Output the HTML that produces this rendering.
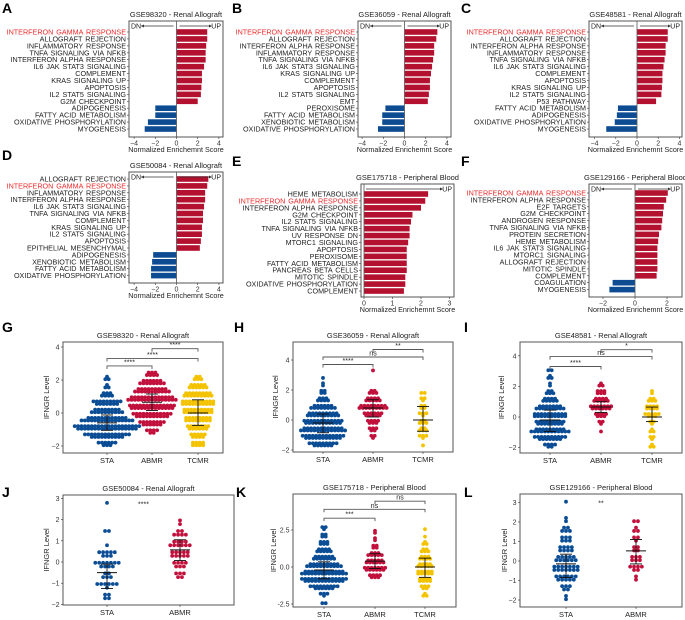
<!DOCTYPE html>
<html><head><meta charset="utf-8"><style>
html,body{margin:0;padding:0;background:#fff}
svg{display:block;font-family:"Liberation Sans",Arial,sans-serif}
</style></head><body>
<svg id="fig" width="685" height="620" viewBox="0 0 685 620" xmlns="http://www.w3.org/2000/svg"></svg>
<script>
// ---------- Enrichment bar data ----------
const A_terms=["INTERFERON GAMMA RESPONSE","ALLOGRAFT REJECTION","INFLAMMATORY RESPONSE","TNFA SIGNALING VIA NFKB","INTERFERON ALPHA RESPONSE","IL6 JAK STAT3 SIGNALING","COMPLEMENT","KRAS SIGNALING UP","APOPTOSIS","IL2 STAT5 SIGNALING","G2M CHECKPOINT","ADIPOGENESIS","FATTY ACID METABOLISM","OXIDATIVE PHOSPHORYLATION","MYOGENESIS"];
const A_nes=[2.9,2.9,2.8,2.75,2.75,2.6,2.4,2.4,2.35,2.3,2.0,-2.0,-2.0,-2.7,-3.0];
const B_terms=["INTERFERON GAMMA RESPONSE","ALLOGRAFT REJECTION","INTERFERON ALPHA RESPONSE","INFLAMMATORY RESPONSE","TNFA SIGNALING VIA NFKB","IL6 JAK STAT3 SIGNALING","KRAS SIGNALING UP","COMPLEMENT","APOPTOSIS","IL2 STAT5 SIGNALING","EMT","PEROXISOME","FATTY ACID METABOLISM","XENOBIOTIC METABOLISM","OXIDATIVE PHOSPHORYLATION"];
const B_nes=[3.1,3.0,2.8,2.8,2.7,2.6,2.5,2.4,2.4,2.3,2.2,-1.8,-2.1,-2.1,-2.5];
const C_terms=["INTERFERON GAMMA RESPONSE","ALLOGRAFT REJECTION","INTERFERON ALPHA RESPONSE","INFLAMMATORY RESPONSE","TNFA SIGNALING VIA NFKB","IL6 JAK STAT3 SIGNALING","COMPLEMENT","APOPTOSIS","KRAS SIGNALING UP","IL2 STAT5 SIGNALING","P53 PATHWAY","FATTY ACID METABOLISM","ADIPOGENESIS","OXIDATIVE PHOSPHORYLATION","MYOGENESIS"];
const C_nes=[2.9,2.9,2.7,2.7,2.6,2.5,2.4,2.4,2.35,2.3,1.8,-1.8,-1.9,-2.1,-2.9];
const D_terms=["ALLOGRAFT REJECTION","INTERFERON GAMMA RESPONSE","INFLAMMATORY RESPONSE","INTERFERON ALPHA RESPONSE","IL6 JAK STAT3 SIGNALING","TNFA SIGNALING VIA NFKB","COMPLEMENT","KRAS SIGNALING UP","IL2 STAT5 SIGNALING","APOPTOSIS","EPITHELIAL MESENCHYMAL","ADIPOGENESIS","XENOBIOTIC METABOLISM","FATTY ACID METABOLISM","OXIDATIVE PHOSPHORYLATION"];
const D_nes=[3.0,2.9,2.7,2.7,2.6,2.5,2.5,2.4,2.4,2.3,2.2,-2.2,-2.3,-2.4,-2.4];
const E_terms=["HEME METABOLISM","INTERFERON GAMMA RESPONSE","INTERFERON ALPHA RESPONSE","G2M CHECKPOINT","IL2 STAT5 SIGNALING","TNFA SIGNALING VIA NFKB","UV RESPONSE DN","MTORC1 SIGNALING","APOPTOSIS","PEROXISOME","FATTY ACID METABOLISM","PANCREAS BETA CELLS","MITOTIC SPINDLE","OXIDATIVE PHOSPHORYLATION","COMPLEMENT"];
const E_nes=[2.25,2.15,2.0,1.7,1.65,1.6,1.6,1.55,1.5,1.5,1.5,1.5,1.45,1.45,1.4];
const F_terms=["INTERFERON GAMMA RESPONSE","INTERFERON ALPHA RESPONSE","E2F TARGETS","G2M CHECKPOINT","ANDROGEN RESPONSE","TNFA SIGNALING VIA NFKB","PROTEIN SECRETION","HEME METABOLISM","IL6 JAK STAT3 SIGNALING","MTORC1 SIGNALING","ALLOGRAFT REJECTION","MITOTIC SPINDLE","COMPLEMENT","COAGULATION","MYOGENESIS"];
const F_nes=[2.05,1.95,1.8,1.75,1.7,1.65,1.5,1.45,1.4,1.4,1.4,1.4,1.35,-1.4,-1.6];
const tickSym=[-4,-2,0,2,4];
const tickE=[0,1,2,3];
const tickF=[-2,0,2];

// ---------- IFNGR swarm data (counts per 0.25 bin, starting value) ----------
const binStep=0.25;
const G_STA_start=-2, G_STA=[3,6,10,14,18,20,16,12,10,8,7,9,4,3,2,1,2,1];
const G_ABMR_start=-1.25, G_ABMR=[2,4,6,8,10,12,13,14,15,13,11,9,8,6,4,3];
const G_TCMR_start=-2, G_TCMR=[4,4,4,5,6,7,8,8,9,9,10,10,9,8,6,5,3,2];
const G_mean=[-0.6,0.65,0], G_lo=[-1.05,0.15,-0.75], G_hi=[-0.12,1.15,0.8];
const H_STA_start=-1.75, H_STA=[6,9,11,13,14,12,11,12,10,9,8,6,4,3,2,2,1,1,1];
const H_ABMR_start=-1.25, H_ABMR=[1,2,2,3,3,4,5,6,9,8,5,4,3,2,0,0,0,0,1];
const H_TCMR_start=-1.75, H_TCMR=[1,0,1,3,3,2,3,2,1,3,2,2,1,2,2];
const H_mean=[-0.2,0.8,0], H_lo=[-0.85,0.2,-0.75], H_hi=[0.4,1.35,0.9];
const I_STA_start=-2, I_STA=[2,4,7,10,12,9,8,9,10,10,9,7,5,4,3,2,1,1,2,1,2];
const I_ABMR_start=-1, I_ABMR=[1,0,1,2,3,4,6,7,5,4,3,3,2,1];
const I_TCMR_start=-2, I_TCMR=[2,1,1,2,2,1,1,2,3,5,4,4,3,2,1,1];
const I_mean=[-0.2,0.65,0], I_lo=[-0.95,0.3,-0.3], I_hi=[0.45,1.0,0.65];
const J_STA_start=-1.75, J_STA=[2,2,1,6,3,2,4,7,3,5,1,0,0,2,0,0,0,0,1];
const J_ABMR_start=-0.75, J_ABMR=[2,3,3,4,5,5,6,4,4,2,1,1];
const J_mean=[-0.5,0.57], J_lo=[-1.25,0.07], J_hi=[-0.1,1.05];
const K_STA_start=-2.5, K_STA=[2,0,1,3,6,9,12,14,14,12,11,9,7,6,5,4,3,3,2,2,1,2];
const K_ABMR_start=-0.75, K_ABMR=[3,4,6,7,6,5,5,3,2,2,1,1,1,1];
const K_TCMR_start=-2, K_TCMR=[2,1,2,3,4,4,5,5,5,4,4,3,3,2,2,1,1,0,1];
const K_mean=[-0.2,0.4,0], K_lo=[-0.8,-0.1,-0.7], K_hi=[0.35,0.9,0.6];
const L_STA_start=-2, L_STA=[1,1,2,3,5,6,7,7,6,5,4,4,3,3,3,2,1,1,0,0,1];
const L_ABMR_start=-1, L_ABMR=[1,1,2,4,3,3,2,2,1,2,2,1,2];
const L_mean=[-0.15,0.52], L_lo=[-0.85,-0.15], L_hi=[0.35,1.1];
const yTicks4=[-2,0,2,4], yTicksJ=[-2,-1,0,1,2,3], yTicksK=[-2.5,0,2.5], yTicksKlab=["-2.5","0.0","2.5"];

const NS="http://www.w3.org/2000/svg";
const svg=document.getElementById('fig');
function el(tag,attrs,parent,txt){const e=document.createElementNS(NS,tag);for(const k in attrs)e.setAttribute(k,attrs[k]);if(txt!==undefined)e.textContent=txt;(parent||svg).appendChild(e);return e;}
const RED="#b3112f", BLUE="#0d4b92", HL="#ee2a2a";
const DOT=["#0b4d95","#c2103c","#f4c300"];

function letter(t,x,y){const e=el('text',{x:x,y:y,'font-size':14,'font-weight':'bold',fill:'#000'},svg,t);

}

function barPanel(id,c,terms,vals,ticks){
  const g=el('g',{});
  
  
  const sx=v=>c.zero+v*c.ppu;
  const t=el('text',{x:(c.x0+c.x1)/2,y:c.top-4,'font-size':7.5,'text-anchor':'middle',fill:'#222'},g,c.title);
  
  
  terms.forEach((term,i)=>{
    const y=c.row0+i*c.step;
    const v=vals[i];
    const r=el('rect',{x:Math.min(sx(0),sx(v)),y:y-2.8,width:Math.abs(sx(v)-sx(0)),height:5.6,fill:v>0?RED:BLUE},g);
    
    
    const lb=el('text',{x:c.x0-3,y:y+2.5,'font-size':7.2,'text-anchor':'end','word-spacing':'1px',fill:term==="INTERFERON GAMMA RESPONSE"?HL:'#222'},g,term);
    
    
    el('line',{x1:c.x0-2,x2:c.x0,y1:y,y2:y,stroke:'#333','stroke-width':0.6},g);
  });
  el('line',{x1:sx(0),x2:sx(0),y1:c.top,y2:c.bottom,stroke:'#555','stroke-width':0.8},g);
  const box=el('rect',{x:c.x0,y:c.top,width:c.x1-c.x0,height:c.bottom-c.top,fill:'none',stroke:'#555','stroke-width':1},g);
  
  
  const ay=c.top+5;
  if(c.dn){
    el('text',{x:c.x0+2,y:ay+2.5,'font-size':7,fill:'#222'},g,'DN');
    el('line',{x1:c.x0+12,x2:sx(0)-3,y1:ay,y2:ay,stroke:'#333','stroke-width':0.7},g);
    el('path',{d:`M${c.x0+12},${ay} l3,-1.5 v3 z`,fill:'#333'},g);
  }
  el('text',{x:c.x1-2,y:ay+2.5,'font-size':7,'text-anchor':'end',fill:'#222'},g,'UP');
  const ux=c.dn?sx(0)+3:sx(0)+2;
  el('line',{x1:ux,x2:c.x1-12,y1:ay,y2:ay,stroke:'#333','stroke-width':0.7},g);
  el('path',{d:`M${c.x1-11},${ay} l-3,-1.5 v3 z`,fill:'#333'},g);
  ticks.forEach(tv=>{
    el('line',{x1:sx(tv),x2:sx(tv),y1:c.bottom,y2:c.bottom+2,stroke:'#333','stroke-width':0.6},g);
    const tl=el('text',{x:sx(tv),y:c.bottom+8.5,'font-size':7,'text-anchor':'middle',fill:'#333'},g,tv<0?'\u2212'+(-tv):String(tv));
    
    
  });
  const at=el('text',{x:(c.x0+c.x1)/2,y:c.bottom+15,'font-size':7.2,'text-anchor':'middle',fill:'#222'},g,'Normalized Enrichemnt Score');
  
  
}

function swarmPanel(id,c,groups,mean,lo,hi,yt,ytl,cats,sig){
  const g=el('g',{});
  
  
  const sy=v=>c.y0-v*c.ppu;
  const t=el('text',{x:(c.x0+c.x1)/2,y:c.top-4,'font-size':7.5,'text-anchor':'middle',fill:'#222'},g,c.title);
  
  
  const box=el('rect',{x:c.x0,y:c.top,width:c.x1-c.x0,height:c.bottom-c.top,fill:'none',stroke:'#555','stroke-width':1},g);
  
  
  yt.forEach((v,i)=>{
    el('line',{x1:c.x0-2,x2:c.x0,y1:sy(v),y2:sy(v),stroke:'#333','stroke-width':0.6},g);
    const tl=el('text',{x:c.x0-3.5,y:sy(v)+2.5,'font-size':7,'text-anchor':'end',fill:'#333'},g,ytl?ytl[i]:(v<0?'\u2212'+(-v):String(v)));
    
    
  });
  const yl=el('text',{x:0,y:0,'font-size':7.5,'text-anchor':'middle',fill:'#222',transform:`translate(${c.ylx},${(c.top+c.bottom)/2}) rotate(-90)`},g,'IFNGR Level');
  
  
  groups.forEach((gr,k)=>{
    const cx=c.cx[k];
    gr.counts.forEach((n,b)=>{
      const v=gr.start+b*binStep;
      for(let i=0;i<n;i++){
        const off=(i-(n-1)/2)*c.dx;
        const jy=((b%2)?0.8:-0.8);
        const d=el('circle',{cx:cx+off,cy:sy(v)+jy,r:1.9,fill:DOT[k]},g);
        
        
      }
    });
    el('line',{x1:cx,x2:cx,y1:sy(lo[k]),y2:sy(hi[k]),stroke:'#111','stroke-width':0.9},g);
    el('line',{x1:cx-6,x2:cx+6,y1:sy(lo[k]),y2:sy(lo[k]),stroke:'#111','stroke-width':0.9},g);
    el('line',{x1:cx-6,x2:cx+6,y1:sy(hi[k]),y2:sy(hi[k]),stroke:'#111','stroke-width':0.9},g);
    const m=el('line',{x1:cx-10,x2:cx+10,y1:sy(mean[k]),y2:sy(mean[k]),stroke:'#111','stroke-width':1},g);
    
    
    const cl=el('text',{x:cx,y:c.bottom+10,'font-size':7.5,'text-anchor':'middle',fill:'#222'},g,cats[k]);
    
    
    el('line',{x1:cx,x2:cx,y1:c.bottom,y2:c.bottom+2,stroke:'#333','stroke-width':0.6},g);
  });
  sig.forEach(s=>{
    const y=sy(s.y);
    if(s.a!==s.b){
      const x1=c.cx[s.a],x2=c.cx[s.b];
      el('path',{d:`M${x1},${y+3}V${y}H${x2}V${y+3}`,fill:'none',stroke:'#555','stroke-width':0.9},g);
      const st=el('text',{x:(x1+x2)/2,y:y-1.5,'font-size':7,'text-anchor':'middle',fill:'#222'},g,s.t);
      
      
    } else {
      const st=el('text',{x:(c.cx[0]+c.cx[1])/2,y:y+4,'font-size':7,'text-anchor':'middle',fill:'#222'},g,s.t);
      
      
    }
  });
}

[["A",2,13],["B",232,13],["C",461,13],["D",2,160],["E",232,166],["F",461,166],["G",2,332],["H",234,332],["I",464,332],["J",2,497],["K",236,497],["L",464,497]].forEach(a=>letter(...a));

barPanel('a',{x0:129,x1:223,top:21,bottom:137,zero:176.5,ppu:10.6,row0:32,step:6.93,title:'GSE98320 - Renal Allograft',dn:true},A_terms,A_nes,tickSym);
barPanel('b',{x0:358,x1:451,top:21,bottom:137,zero:404.5,ppu:10.6,row0:32,step:6.93,title:'GSE36059 - Renal Allograft',dn:true},B_terms,B_nes,tickSym);
barPanel('c',{x0:589,x1:682,top:21,bottom:137,zero:637,ppu:10.6,row0:32,step:6.93,title:'GSE48581 - Renal Allograft',dn:true},C_terms,C_nes,tickSym);
barPanel('d',{x0:129,x1:223,top:172,bottom:283,zero:176.5,ppu:10.6,row0:179,step:6.9,title:'GSE50084 - Renal Allograft',dn:true},D_terms,D_nes,tickSym);
barPanel('e',{x0:361,x1:454,top:184,bottom:297,zero:364,ppu:28.5,row0:194,step:6.93,title:'GSE175718 - Peripheral Blood',dn:false},E_terms,E_nes,tickE);
barPanel('f',{x0:589,x1:682,top:184,bottom:297,zero:635,ppu:16,row0:193,step:6.9,title:'GSE129166 - Peripheral Blood',dn:true},F_terms,F_nes,tickF);

const cat3=["STA","ABMR","TCMR"], cat2=["STA","ABMR"];
swarmPanel('g',{x0:63,x1:223,top:342,bottom:453,y0:413,ppu:16.5,cx:[107,152,198],dx:3.4,ylx:49,title:'GSE98320 - Renal Allograft'},
 [{start:G_STA_start,counts:G_STA},{start:G_ABMR_start,counts:G_ABMR},{start:G_TCMR_start,counts:G_TCMR}],G_mean,G_lo,G_hi,yTicks4,null,cat3,
 [{a:1,b:2,y:3.9,t:'****'},{a:0,b:2,y:3.3,t:'****'},{a:0,b:1,y:2.85,t:'****'}]);
swarmPanel('h',{x0:293,x1:453,top:342,bottom:452,y0:420,ppu:15,cx:[323,373,423],dx:3.4,ylx:278,title:'GSE36059 - Renal Allograft'},
 [{start:H_STA_start,counts:H_STA},{start:H_ABMR_start,counts:H_ABMR},{start:H_TCMR_start,counts:H_TCMR}],H_mean,H_lo,H_hi,yTicks4,null,cat3,
 [{a:1,b:2,y:4.7,t:'**'},{a:0,b:2,y:4.2,t:'ns'},{a:0,b:1,y:3.7,t:'****'}]);
swarmPanel('i',{x0:520,x1:682,top:342,bottom:453,y0:417,ppu:15.3,cx:[550,601,652],dx:3.4,ylx:504,title:'GSE48581 - Renal Allograft'},
 [{start:I_STA_start,counts:I_STA},{start:I_ABMR_start,counts:I_ABMR},{start:I_TCMR_start,counts:I_TCMR}],I_mean,I_lo,I_hi,yTicks4,null,cat3,
 [{a:1,b:2,y:4.4,t:'*'},{a:0,b:2,y:3.95,t:'ns'},{a:0,b:1,y:3.3,t:'****'}]);
swarmPanel('j',{x0:63,x1:234,top:495,bottom:605,y0:562,ppu:21.2,cx:[107,180],dx:3.9,ylx:49,title:'GSE50084 - Renal Allograft'},
 [{start:J_STA_start,counts:J_STA},{start:J_ABMR_start,counts:J_ABMR}],J_mean,J_lo,J_hi,yTicksJ,null,cat2,
 [{a:0,b:0,y:2.8,t:'****'}]);
swarmPanel('k',{x0:293,x1:456,top:494,bottom:607,y0:567,ppu:14.8,cx:[324,375,425],dx:3.4,ylx:276,title:'GSE175718 - Peripheral Blood'},
 [{start:K_STA_start,counts:K_STA},{start:K_ABMR_start,counts:K_ABMR},{start:K_TCMR_start,counts:K_TCMR}],K_mean,K_lo,K_hi,yTicksK,yTicksKlab,cat3,
 [{a:1,b:2,y:4.45,t:'ns'},{a:0,b:2,y:3.9,t:'ns'},{a:0,b:1,y:3.3,t:'***'}]);
swarmPanel('l',{x0:520,x1:682,top:494,bottom:607,y0:561,ppu:19.5,cx:[566,636],dx:3.9,ylx:507,title:'GSE129166 - Peripheral Blood'},
 [{start:L_STA_start,counts:L_STA},{start:L_ABMR_start,counts:L_ABMR}],L_mean,L_lo,L_hi,yTicksJ,null,cat2,
 [{a:0,b:0,y:3.05,t:'**'}]);
</script>
</body></html>
